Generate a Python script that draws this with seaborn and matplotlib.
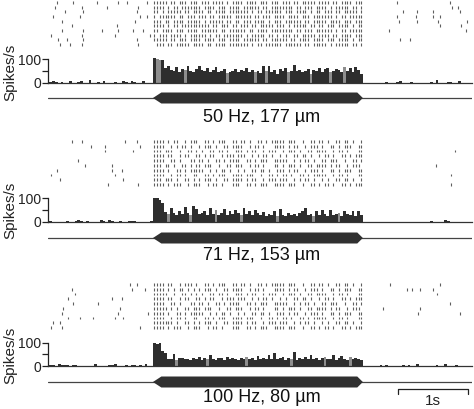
import numpy as np
import pandas as pd
import matplotlib
matplotlib.use("Agg")
import matplotlib.pyplot as plt
import seaborn as sns

sns.set_theme(style="white")
plt.rcParams["font.family"] = ["Liberation Sans", "DejaVu Sans"]

# time axis in seconds, stimulus 1.5 - 4.5 s, PSTH bins of 40 ms
t_end = 6.06
stim_on, stim_off = 1.5, 4.5
bin_w = 0.04

labels = ["50 Hz, 177 µm", "71 Hz, 153 µm", "100 Hz, 80 µm"]

# PSTH rates (spikes/s): 38 bins before, 75 bins during, 37 bins after stimulus
psth1_pre = [0, 6, 8, 5, 0, 6, 0, 0, 7, 0,
             0, 5, 10, 0, 0, 12, 0, 0, 6, 0,
             8, 0, 0, 0, 5, 0, 0, 7, 6, 0,
             9, 6, 0, 0, 7, 0, 0, 0]
psth1_stim = [105, 100, 96, 98, 62, 72, 55, 50, 66, 45, 60, 55, 72, 50, 46,
              60, 73, 55, 50, 62, 48, 55, 68, 45, 50, 58, 42, 48, 52, 60,
              45, 55, 50, 63, 48, 55, 45, 50, 42, 72, 50, 74, 45, 55, 40,
              58, 50, 65, 45, 52, 78, 50, 55, 45, 50, 60, 40, 55, 52, 62,
              48, 58, 62, 45, 50, 60, 55, 48, 70, 52, 62, 45, 66, 55, 40]
psth1_post = [0, 0, 0, 0, 0, 0, 0, 0, 6, 0,
              0, 0, 5, 7, 0, 0, 0, 5, 0, 0,
              0, 0, 0, 0, 6, 0, 12, 0, 0, 0,
              6, 5, 0, 0, 7, 0, 0]
psth1_light = [1, 2, 11, 26, 36, 40, 48, 56, 63, 68]

psth2_pre = [0, 5, 0, 0, 0, 0, 0, 6, 0, 0,
             5, 7, 5, 0, 6, 0, 0, 0, 0, 8,
             6, 0, 7, 5, 0, 0, 6, 0, 0, 5,
             6, 5, 0, 0, 0, 0, 0, 4]
psth2_stim = [104, 100, 95, 80, 42, 35, 58, 40, 30, 46, 36, 62, 40, 30, 66,
              56, 35, 40, 46, 30, 60, 35, 50, 30, 40, 56, 30, 45, 35, 52,
              40, 30, 60, 35, 45, 30, 50, 40, 30, 42, 25, 35, 30, 45, 25,
              55, 30, 25, 40, 30, 35, 25, 40, 45, 58, 30, 35, 25, 45, 30,
              50, 35, 25, 52, 30, 35, 40, 25, 45, 35, 30, 48, 25, 45, 30]
psth2_post = [0, 0, 0, 0, 0, 0, 0, 0, 0, 0,
              0, 0, 0, 0, 0, 0, 0, 0, 0, 0,
              0, 0, 0, 0, 4, 0, 0, 0, 0, 7,
              6, 0, 0, 0, 0, 0, 0]
psth2_light = [5, 13, 22, 31, 44, 57, 66]

psth3_pre = [0, 6, 5, 0, 7, 5, 6, 5, 0, 6,
             5, 0, 0, 0, 0, 0, 0, 7, 0, 0,
             0, 0, 6, 5, 7, 0, 0, 0, 6, 0,
             5, 6, 0, 6, 0, 7, 0, 0]
psth3_stim = [100, 95, 98, 62, 56, 28, 30, 50, 26, 32, 36, 28, 30, 26, 36,
              30, 40, 25, 36, 30, 45, 28, 26, 32, 36, 25, 40, 30, 36, 28,
              25, 34, 30, 40, 28, 35, 25, 42, 30, 36, 28, 45, 30, 55, 28,
              32, 38, 25, 36, 30, 60, 26, 35, 30, 38, 28, 48, 30, 36, 25,
              34, 40, 28, 30, 45, 26, 36, 42, 30, 25, 38, 30, 34, 28, 26]
psth3_post = [0, 0, 0, 0, 0, 0, 6, 0, 5, 0,
              0, 0, 0, 0, 6, 0, 5, 0, 0, 7,
              0, 0, 0, 0, 0, 0, 6, 0, 0, 7,
              0, 0, 0, 6, 0, 0, 0]
psth3_light = [8, 19, 33, 49, 61, 70]

# raster: spike times (s) before / after stimulus, one list per trial
raster1_pre = [[0.13, 0.36, 0.70, 1.0, 1.13, 1.41], [0.1, 0.49, 0.84, 1.29],
               [0.24, 0.5, 1.27], [0.07, 0.46, 1.31, 1.41], [0.2, 1.24],
               [0.34, 0.99], [0.2, 0.5, 0.77, 1.0, 1.22, 1.36],
               [0.05, 0.48, 0.96, 1.46], [0.15, 0.27, 0.5, 1.27],
               [0.17, 0.31, 0.48, 1.29]]
raster1_post = [[4.99, 5.74], [5.77, 5.86], [5.07, 5.27, 5.5, 5.89],
                [4.99, 5.26, 5.5, 5.6], [5.01, 5.27, 5.57, 5.99], [5.6, 5.9],
                [4.87, 5.97], [], [5.03, 5.17], []]
# during stimulus: one character per 40 ms, '|' = spike
raster1_stim = ["|||||.||.|||.|| |.|||.||||.|.|| ||.||||.|||.||| .|||.||.|||||.| |||.||.||||.|||",
                "||||.|.||.||||| ||.||||.|||.||| |.||||||.||.||| |||||.||.|||.|| ||.|.|||||.||.|",
                "||.|.|||||.||.| |||.||.||||.||| ||||.|.||.||||| |.|||.||||.|.|| .|||.||.|||||.|",
                "|.||||||.||.||| .|||.||.|||||.| |||||.||.|||.|| ||.||||.|||.||| ||||.|.||.|||||",
                "|||.||.||||.||| ||.|.|||||.||.| |.|||.||||.|.|| |.||||||.||.||| ||.||||.|||.|||",
                "||||.|.||.||||| |||||.||.|||.|| .|||.||.|||||.| ||.|.|||||.||.| |.|||.||||.|.||",
                "||.||||.|||.||| |.||||||.||.||| |||.||.||||.||| |||||.||.|||.|| ||||.|.||.|||||",
                "|.|||.||||.|.|| ||||.|.||.||||| ||.|.|||||.||.| .|||.||.|||||.| |||.||.||||.|||",
                "|||||.||.|||.|| ||.||||.|||.||| |.||||||.||.||| |||.||.||||.||| |.|||.||||.|.||",
                ".|||.||.|||||.| |||.||.||||.||| ||||.|.||.||||| |.||||||.||.||| ||.|.|||||.||.|"]

raster2_pre = [[0.34, 0.48, 1.1, 1.27], [0.62, 0.81, 1.31], [0.81, 1.22], [],
               [0.43], [0.53, 0.91], [0.13, 0.91, 1.06], [0.05, 0.96],
               [0.17, 1.07], [0.86, 1.29]]
raster2_post = [[], [], [5.81], [], [], [5.54], [], [5.76], [], [5.76]]
raster2_stim = ["||||.|.||..|.|| |..||.|.|||..|| .||.|..||.|.||| ||.|||..|..||.| |.|..||.||.|..|",
                "||||..|.|.||.|. .|.|||.|..||.|| ||..|.||.|...|| ||.|.||..|.|||. |..||.|.|||..||",
                "|||.|||..|..||. |.|..||.||.|..| ||.|.||..|.|||. .|.|||.|..||.|| ||..|.||.|...||",
                "||||.||..|.||.. ||.|.||..|.|||. |||..|.|.||.|.. |.|..||.||.|..| .||.|..||.|.|||",
                "||||..||.|...|| .||.|..||.|.||| |..||.|.|||..|| |||..|.|.||.|.. ||.|||..|..||.|",
                "|||.||.|..||.|. ||.|||..|..||.| ||..|.||.|...|| .|.|||.|..||.|| ||.|.||..|.|||.",
                "||||.|..||.|.|| |||..|.|.||.|.. |.|..||.||.|..| ||.|.||..|.|||. |..||.|.|||..||",
                "||||..|.||.|..| |..||.|.|||..|| ||.|||..|..||.| .||.|..||.|.||| ||..|.||.|...||",
                "|||.|||.|..||.| .|.|||.|..||.|| ||.|.||..|.|||. |||..|.|.||.|.. |.|..||.||.|..|",
                "||||.|.|||..|.| ||..|.||.|...|| |..||.|.|||..|| ||.|||..|..||.| .||.|..||.|.|||"]

raster3_pre = [[1.17, 1.27], [0.34, 1.2, 1.39], [0.39], [0.29, 0.91, 1.06],
               [0.36, 0.71], [0.21, 1.03], [0.2, 1.0, 1.43],
               [0.29, 0.46, 0.64, 0.96, 1.07], [0.07, 0.17], [0.05, 0.2, 1.31]]
raster3_post = [[4.89, 5.6], [5.13, 5.2, 5.31, 5.5], [5.56], [], [5.74],
                [4.79, 5.31], [5.29, 5.89], [], [], []]
raster3_stim = ["||||.||..|.|||. |..||.|.|||..|| .||.|..||.|.||| ||.|||..|..||.| |.|..||.||.|..|",
                "||||.|.|.||.|.| .|.|||.|..||.|| ||..|.||.|...|| ||.|.||..|.|||. |..||.|.|||..||",
                "|||||..|..||.|. |.|..||.||.|..| ||.|.||..|.|||. .|.|||.|..||.|| ||..|.||.|...||",
                "||||.||..|.||.. ||.|.||..|.|||. |||..|.|.||.|.. |.|..||.||.|..| .||.|..||.|.|||",
                "||||..||.|...|| .||.|..||.|.||| |..||.|.|||..|| |||..|.|.||.|.. ||.|||..|..||.|",
                "|||||.|.|..||.| ||.|||..|..||.| ||..|.||.|...|| .|.|||.|..||.|| ||.|.||..|.|||.",
                "||||.|..||.|.|| |||..|.|.||.|.. |.|..||.||.|..| ||.|.||..|.|||. |..||.|.|||..||",
                "||||..|.||.|..| |..||.|.|||..|| ||.|||..|..||.| .||.|..||.|.||| ||..|.||.|...||",
                "|||||||.|..||.| .|.|||.|..||.|| ||.|.||..|.|||. |||..|.|.||.|.. |.|..||.||.|..|",
                "||||.|.|||..|.| ||..|.||.|...|| |..||.|.|||..|| ||.|||..|..||.| .||.|..||.|.|||"]

panels = [
    dict(pre=psth1_pre, stim=psth1_stim, post=psth1_post, light=psth1_light,
         r_pre=raster1_pre, r_stim=raster1_stim, r_post=raster1_post, label=labels[0]),
    dict(pre=psth2_pre, stim=psth2_stim, post=psth2_post, light=psth2_light,
         r_pre=raster2_pre, r_stim=raster2_stim, r_post=raster2_post, label=labels[1]),
    dict(pre=psth3_pre, stim=psth3_stim, post=psth3_post, light=psth3_light,
         r_pre=raster3_pre, r_stim=raster3_stim, r_post=raster3_post, label=labels[2]),
]

W, H = 474, 409
fig = plt.figure(figsize=(W / 100, H / 100), dpi=100)

X0, X1 = 48, 472


def add_ax(top, bottom):
    # axes from pixel rows (measured from top of the figure)
    return fig.add_axes([X0 / W, 1 - bottom / H, (X1 - X0) / W, (bottom - top) / H])


# pixel layout of each panel: raster top/bottom, psth zero line, stim bar centre, label
layout = [
    dict(r_top=0, r_bot=47, zero=83, stim=98, text=117, ylab=72),
    dict(r_top=139, r_bot=187, zero=222, stim=238, text=256, ylab=210),
    dict(r_top=282, r_bot=330, zero=366, stim=382, text=398, ylab=355),
]
px_per_unit = 0.235
ymax = 110

n_pre = 38
edges = list(stim_on + bin_w * np.arange(-n_pre, 75 + 37 + 1))

for p, L in zip(panels, layout):
    # raster
    ax = add_ax(L["r_top"], L["r_bot"])
    trials = []
    for pre, s, post in zip(p["r_pre"], p["r_stim"], p["r_post"]):
        s = s.replace(" ", "")[:75]
        during = [stim_on + bin_w * (i + 0.5) for i, c in enumerate(s) if c == "|"]
        trials.append(list(pre) + during + list(post))
    ax.eventplot(trials, lineoffsets=np.arange(len(trials)), linelengths=0.62,
                 colors="#5e5e5e", linewidths=0.8)
    ax.set_xlim(0, t_end)
    ax.set_ylim(len(trials) - 0.5, -0.5)
    ax.axis("off")

    # PSTH
    hist_h = ymax * px_per_unit
    ax = add_ax(L["zero"] - hist_h, L["zero"])
    rates = list(p["pre"]) + list(p["stim"]) + list(p["post"])
    centers = np.array(edges[:-1]) + bin_w / 2
    shade = ["light" if (i - n_pre) in p["light"] else "dark" for i in range(len(rates))]
    df = pd.DataFrame({"t": centers[:len(rates)], "rate": rates, "shade": shade})
    sns.histplot(data=df, x="t", weights="rate", bins=edges, hue="shade",
                 hue_order=["dark", "light"],
                 palette={"dark": "#2e2e2e", "light": "#8e8e8e"},
                 multiple="layer", alpha=1, linewidth=0, legend=False, ax=ax)
    ax.set_xlim(0, t_end)
    ax.set_ylim(0, ymax)
    ax.set_xlabel("")
    ax.set_ylabel("")
    ax.set_xticks([])
    ax.set_yticks([0, 50, 100])
    ax.set_yticklabels(["0", "", "100"])
    ax.tick_params(axis="y", direction="out", length=4, width=0.9, pad=1,
                   labelsize=10, colors="#222222", left=True)
    for side in ["top", "right"]:
        ax.spines[side].set_visible(False)
    ax.spines["left"].set_bounds(0, 100)
    ax.spines["left"].set_color("#222222")
    ax.spines["left"].set_linewidth(0.9)
    ax.spines["bottom"].set_color("#333333")
    ax.spines["bottom"].set_linewidth(0.9)
    ax.patch.set_alpha(0)

    # stimulus bar
    ax = add_ax(L["stim"] - 8, L["stim"] + 8)
    ax.plot([0, t_end], [0, 0], color="#444444", lw=0.9, zorder=1)
    ax.fill([stim_on, stim_on + 0.12, stim_off - 0.08, stim_off, stim_off - 0.08, stim_on + 0.12],
            [0, 1.1, 1.1, 0, -1.1, -1.1], color="#303030", lw=0, zorder=2)
    ax.set_xlim(0, t_end)
    ax.set_ylim(-1.6, 1.6)
    ax.axis("off")
    stim_ax = ax

    fig.text(262 / W, 1 - L["text"] / H, p["label"], ha="center", va="center",
             fontsize=13, color="#111111")
    fig.text(10 / W, 1 - L["ylab"] / H, "Spikes/s", rotation=90, ha="center",
             va="center", fontsize=11, color="#222222")

# scale bar 1 s
stim_ax.plot([5.0, 5.0, 6.0, 6.0], [-2.4, -1.4, -1.4, -2.4], color="#222222",
             lw=0.9, clip_on=False)
stim_ax.text(5.5, -3.8, "1s", ha="center", va="center", fontsize=11, color="#222222")

fig.savefig("out.png", dpi=100)
